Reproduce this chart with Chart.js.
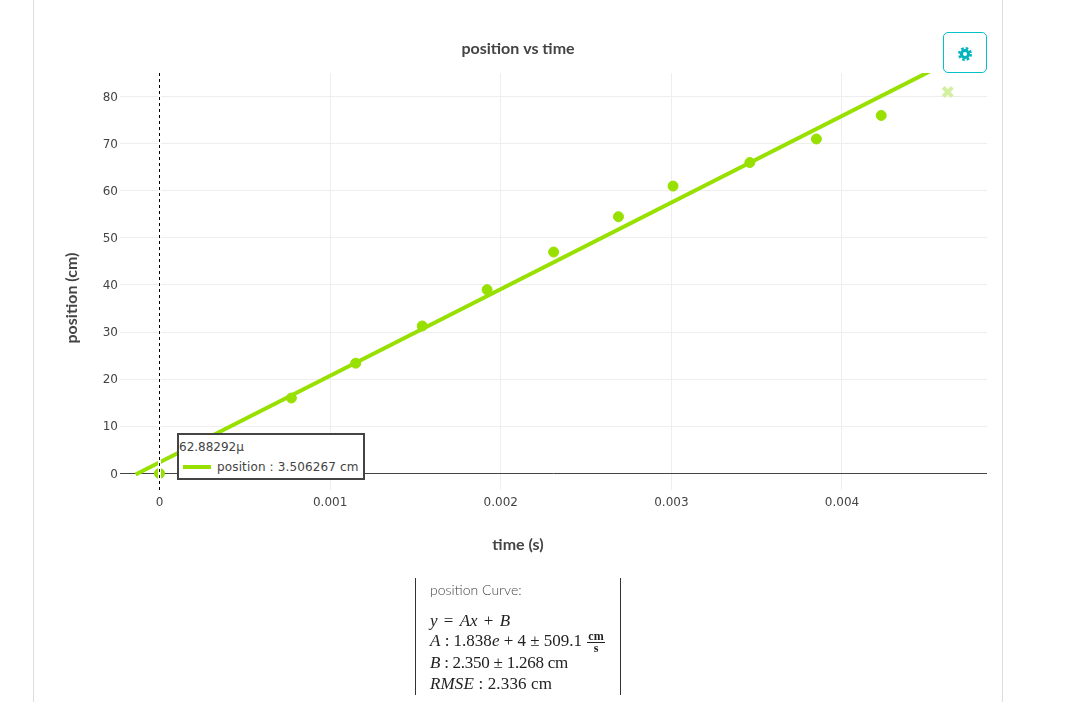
<!DOCTYPE html>
<html>
<head>
<meta charset="utf-8">
<script src="https://cdn.jsdelivr.net/npm/chart.js@4"></script>
<style>
  html, body { margin: 0; background: #fff; overflow: hidden; }
  body { width: 1066px; height: 702px; position: relative; }
  .page { position: absolute; left: 33px; top: 0; width: 968px; height: 702px; border-left: 1px solid #ddd; border-right: 1px solid #ddd; }
  #wrap { position: absolute; left: 34px; top: 0; width: 968px; height: 626px; }
  .gear { position: absolute; left: 943px; top: 32px; width: 42px; height: 39px; border: 1px solid #00c1c8; border-radius: 5px; background: #fff; }
  .gear svg { position: absolute; left: 14px; top: 14px; }
  .hover { position: absolute; left: 177px; top: 433px; width: 184px; height: 43px; border: 2px solid #444; background: #fff; color: #444; font: 12px "DejaVu Sans", sans-serif; }
  .hover .x { position: absolute; left: 0; top: 5px; }
  .hover .swatch { position: absolute; left: 4px; top: 30px; width: 28px; height: 4px; background: #97e000; }
  .hover .y { position: absolute; left: 38px; top: 25px; white-space: nowrap; letter-spacing: 0.14px; }
  .fit { position: absolute; left: 415px; top: 578px; width: 204px; height: 117px; border-left: 1px solid #333; border-right: 1px solid #333; color: #222; font: 17px "Liberation Serif", serif; }
  .fit div { position: absolute; left: 14px; white-space: nowrap; }
  .fit .head { top: 3px; font: 300 14px Lato, sans-serif; color: #444; }
  .fit i { font-style: italic; }
  .fit .wide { word-spacing: 2px; }
  .frac { display: inline-block; vertical-align: middle; text-align: center; font-size: 12px; line-height: 11px; font-weight: bold; margin-left: 1px; }
  .frac b { display: block; border-bottom: 1px solid #222; padding: 0 1px; }
  .frac span { display: block; }
</style>
</head>
<body>
<div class="page"></div>
<div id="wrap"><canvas id="myChart" width="968" height="626"></canvas></div>
<div class="gear"><svg width="14" height="14" viewBox="0 0 14 14"><circle cx="7" cy="7" r="3.6" fill="none" stroke="#00b5bd" stroke-width="3"/><circle cx="7" cy="7" r="5.8" fill="none" stroke="#00b5bd" stroke-width="2.4" stroke-dasharray="2.6 1.95"/></svg></div>
<div class="hover">
  <span class="x">62.88292µ</span>
  <span class="swatch"></span>
  <span class="y">position : 3.506267 cm</span>
</div>
<div class="fit">
  <div class="head">position Curve:</div>
  <div class="wide" style="top:33px"><i>y</i> = <i>Ax</i> + <i>B</i></div>
  <div style="top:53px"><i>A</i> : 1.838<i>e</i> + 4 ± 509.1 <span class="frac"><b>cm</b><span>s</span></span></div>
  <div style="top:75px; letter-spacing:-0.25px"><i>B</i> : 2.350 ± 1.268 cm</div>
  <div style="top:96px; letter-spacing:0.15px"><i>RMSE</i> : 2.336 cm</div>
</div>
<script>
const timeValues = [0, 0.000773, 0.00115, 0.00154, 0.00192, 0.00231, 0.00269, 0.00301, 0.00346, 0.00385, 0.00423];
const positionValues = [0, 16, 23.4, 31.3, 39, 47, 54.5, 61, 66, 71, 76];
const excludedTime = [0.00462];
const excludedPosition = [81];
const fitTime = [-0.00014, 0.0048];
const fitPosition = [-0.22, 90.6];
const xRange = [-0.0002315, 0.00485];
const yRange = [-3.524, 85.01];

const green = '#97e000';

function pairs(xs, ys) {
  return xs.map((x, i) => ({ x: x, y: ys[i] }));
}

// axis titles are not centred on the plot in the original
const axisTitles = {
  id: 'axisTitles',
  afterDraw(chart) {
    const c = chart.ctx;
    c.save();
    c.fillStyle = '#444';
    c.font = 'bold 16px Lato, sans-serif';
    c.textAlign = 'center';
    c.textBaseline = 'middle';
    c.fillText('time (s)', chart.width / 2, 545);
    c.translate(38, 298);
    c.rotate(-Math.PI / 2);
    c.fillText('position (cm)', 0, 0);
    c.restore();
  }
};

new Chart(document.getElementById('myChart'), {
  type: 'scatter',
  data: {
    datasets: [{
      label: 'spike',
      data: pairs([0, 0], yRange),
      showLine: true,
      borderColor: '#000',
      borderWidth: 1,
      borderDash: [3, 3],
      pointRadius: 0,
      order: 0
    }, {
      label: 'spike edge',
      data: pairs([0, 0], yRange),
      showLine: true,
      borderColor: '#fff',
      borderWidth: 3,
      pointRadius: 0,
      order: 1
    }, {
      label: 'position fit',
      data: pairs(fitTime, fitPosition),
      showLine: true,
      borderColor: green,
      borderWidth: 4,
      pointRadius: 0,
      order: 3
    }, {
      label: 'position',
      data: pairs(timeValues, positionValues),
      backgroundColor: green,
      borderColor: green,
      pointRadius: 5,
      order: 2
    }, {
      label: 'excluded',
      data: pairs(excludedTime, excludedPosition),
      pointStyle: 'crossRot',
      borderColor: '#d3f0a0',
      borderWidth: 4,
      pointRadius: 6.5,
      order: 2
    }]
  },
  options: {
    responsive: false,
    animation: false,
    layout: { padding: { left: 15, right: 15 } },
    plugins: {
      legend: { display: false },
      tooltip: { enabled: false },
      title: {
        display: true,
        text: 'position vs time',
        color: '#444',
        font: { family: 'Lato, sans-serif', size: 16, weight: 'bold' },
        padding: { top: 39, bottom: 14.8 }
      }
    },
    scales: {
      x: {
        type: 'linear',
        min: xRange[0],
        max: xRange[1],
        afterFit(scale) { scale.height = 136; },
        border: { display: false },
        grid: {
          color: '#eee',
          drawTicks: false
        },
        ticks: {
          stepSize: 0.001,
          includeBounds: false,
          padding: 6,
          maxRotation: 0,
          color: '#444',
          font: { family: '"DejaVu Sans", sans-serif', size: 12 },
          callback: v => String(Math.round(v * 1000) / 1000)
        }
      },
      y: {
        min: yRange[0],
        max: yRange[1],
        afterFit(scale) { scale.width = 71; },
        border: { display: false },
        grid: {
          color: ctx => ctx.tick.value === 0 ? '#444' : '#eee',
          drawTicks: false
        },
        ticks: {
          stepSize: 10,
          includeBounds: false,
          padding: 2,
          labelOffset: 1,
          color: '#444',
          font: { family: '"DejaVu Sans", sans-serif', size: 12 }
        }
      }
    }
  },
  plugins: [axisTitles]
});
</script>
</body>
</html>
